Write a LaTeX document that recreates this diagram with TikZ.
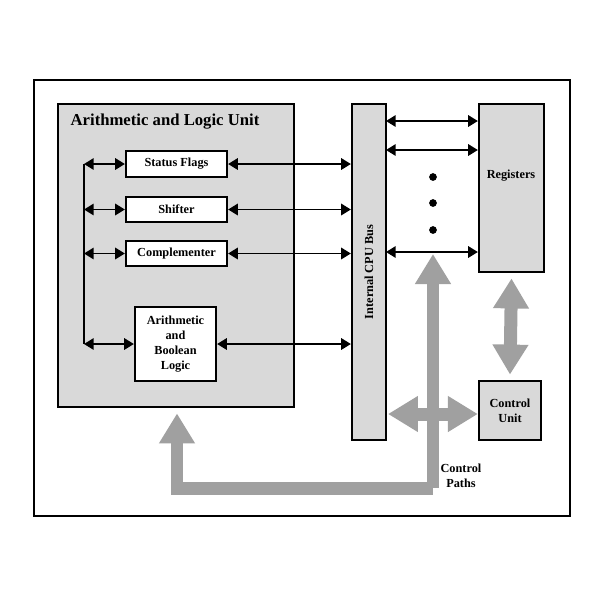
\documentclass[tikz,border=0pt]{standalone}
\usepackage{fontspec}
\setmainfont{Liberation Serif}
\usetikzlibrary{arrows.meta}
\definecolor{lg}{HTML}{D9D9D9}
\definecolor{dg}{HTML}{A0A0A0}
\begin{document}
\begin{tikzpicture}[x=0.02cm,y=-0.02cm,
  box/.style={draw,line width=1.3pt,inner sep=0pt,font=\fontsize{7}{8.5}\selectfont\bfseries,align=center},
  blk/.style={line width=1pt,{Triangle[length=5.5pt,width=6.5pt]}-{Triangle[length=5.5pt,width=6.5pt]}},
  fat/.style={dg,line width=0.26cm,line join=miter,-{Triangle[length=0.6cm,width=0.68cm]}},
  fat2/.style={dg,line width=0.26cm,{Triangle[length=0.6cm,width=0.68cm]}-{Triangle[length=0.6cm,width=0.68cm]}}]
\useasboundingbox (0,0) rectangle (600,600);
\fill[white] (0,0) rectangle (600,600);
\node[box,line width=1pt,minimum width=536*0.02cm,minimum height=436*0.02cm] (frame) at (302,298) {};
\node[box,fill=lg,minimum width=236*0.02cm,minimum height=303*0.02cm] (alu) at (176,255.5) {};
\node[font=\fontsize{9.5}{11}\selectfont\bfseries] (alut) at (165,122) {Arithmetic and Logic Unit};
\node[box,fill=white,minimum width=101*0.02cm,minimum height=26*0.02cm] (sf) at (176.5,164) {Status Flags};
\node[box,fill=white,minimum width=101*0.02cm,minimum height=25*0.02cm] (sh) at (176.5,209.5) {Shifter};
\node[box,fill=white,minimum width=101*0.02cm,minimum height=25*0.02cm] (co) at (176.5,253.5) {Complementer};
\node[box,fill=white,minimum width=81*0.02cm,minimum height=74*0.02cm] (abl) at (175.5,344) {Arithmetic\\and\\Boolean\\Logic};
\node[box,fill=lg,minimum width=34*0.02cm,minimum height=336*0.02cm] (bus) at (369,272) {};
\node[font=\fontsize{7}{8.5}\selectfont\bfseries,rotate=90] (bust) at (369,272) {Internal CPU Bus};
\node[box,fill=lg,minimum width=65*0.02cm,minimum height=168*0.02cm] (reg) at (511.5,188) {};
\node[font=\fontsize{7}{8.5}\selectfont\bfseries] (regt) at (511,176) {Registers};
\node[box,fill=lg,minimum width=62*0.02cm,minimum height=59*0.02cm] (cu) at (510,410.5) {Control\\Unit};
% left bus
\coordinate (lt) at (84,164); \coordinate (lb) at (84,344);
\draw[line width=1pt] (lt) -- (lb);
\draw[blk] (lt) -- (sf.west);
\draw[blk] (lt|-sh.west) -- (sh.west);
\draw[blk] (lt|-co.west) -- (co.west);
\draw[blk] (lb) -- (abl.west);
\draw[blk] (sf.east) -- (sf.east-|bus.west);
\draw[blk] (sh.east) -- (sh.east-|bus.west);
\draw[blk] (co.east) -- (co.east-|bus.west);
\draw[blk] (abl.east) -- (abl.east-|bus.west);
\coordinate (r1) at (386,121); \coordinate (r2) at (386,150); \coordinate (r3) at (386,252);
\draw[blk] (r1) -- (r1-|reg.west);
\draw[blk] (r2) -- (r2-|reg.west);
\draw[blk] (r3) -- (r3-|reg.west);
\foreach \y/\n in {177/d1,203/d2,230/d3} \fill (433,\y) circle (2.2pt);
% gray
\coordinate (cb) at (433,488);
\coordinate (ct) at (433,254);
\draw[fat2] ([yshift=-3pt]reg.south) -- ([yshift=3pt]cu.north);
\draw[fat] (cb) -- (ct);
\draw[fat2] (388,414) -- (cu.west|-0,414);
\draw[fat] (cb) -- (177,488) -- ([yshift=-3pt]alu.south-|177,0);
\node[font=\fontsize{7}{8.5}\selectfont\bfseries,align=center] (cp) at (461,476) {Control\\Paths};
\end{tikzpicture}
\end{document}
